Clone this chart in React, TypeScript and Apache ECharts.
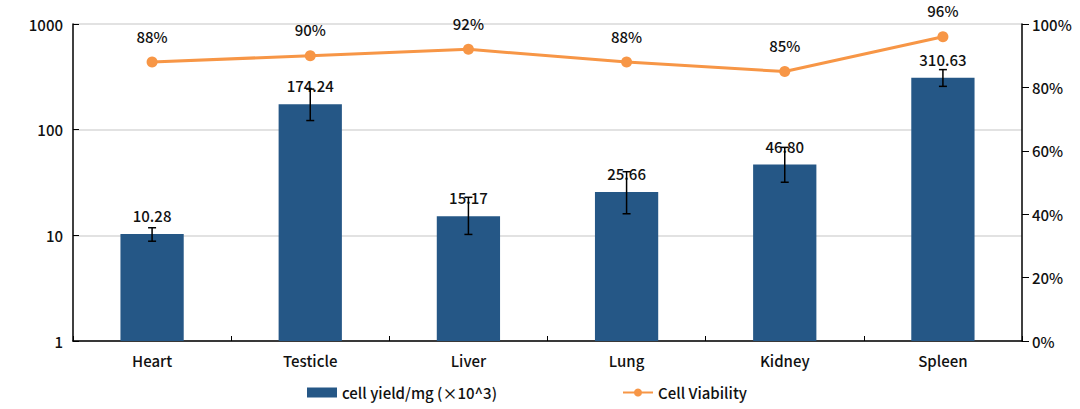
import React, { useEffect, useRef } from "react";
import * as echarts from "echarts";

const categories = ["Heart", "Testicle", "Liver", "Lung", "Kidney", "Spleen"];
const cellYield = [10.28, 174.24, 15.17, 25.66, 46.8, 310.63];
const errUpper = [11.8, 242, 22.9, 40, 68, 370];
const errLower = [8.8, 122, 10.2, 16, 31.8, 257];
const viability = [88, 90, 92, 88, 85, 96];
const leftTicks = [1, 10, 100, 1000];

const FONT = "Noto Sans CJK SC";
const BAR = "#255786";
const ORANGE = "#F79646";

export default function App() {
  const ref = useRef<HTMLDivElement>(null);
  useEffect(() => {
    if (!ref.current) return;
    const chart = echarts.init(ref.current, null, { renderer: "svg" });
    const txt = { fontFamily: FONT, fontWeight: 500 as any, fontSize: 15, color: "#111" };
    chart.setOption({
      animation: false,
      textStyle: { fontFamily: FONT },
      grid: { left: 73, right: 58, top: 24, bottom: 68 },
      legend: {
        bottom: 4,
        left: 302,
        itemGap: 125,
        itemWidth: 30,
        itemHeight: 10,
        textStyle: { ...txt },
        data: [
          { name: "cell yield/mg (×10^3)", icon: "rect" },
          { name: "Cell Viability" },
        ],
      },
      xAxis: {
        type: "category",
        data: categories,
        boundaryGap: true,
        axisLine: { lineStyle: { color: "#000", width: 1.5 } },
        axisTick: { show: true, inside: true, length: 5, interval: 0, lineStyle: { color: "#000" } },
        axisLabel: { ...txt, margin: 12 },
      },
      yAxis: [
        {
          type: "log",
          logBase: 10,
          min: leftTicks[0],
          max: leftTicks[leftTicks.length - 1],
          axisLine: { show: true, lineStyle: { color: "#000", width: 1.5 } },
          axisTick: { show: true, inside: true, length: 6, lineStyle: { color: "#000" } },
          axisLabel: { ...txt, margin: 10, formatter: (v: number) => String(Math.round(v)) },
          splitLine: { show: true, lineStyle: { color: "#d9d9d9", width: 1.5 } },
        },
        {
          type: "value",
          min: 0,
          max: 100,
          interval: 20,
          position: "right",
          axisLine: { show: true, lineStyle: { color: "#000", width: 1.5 } },
          axisTick: { show: true, length: 7, lineStyle: { color: "#000" } },
          axisLabel: { ...txt, margin: 10, formatter: "{value}%" },
          splitLine: { show: false },
        },
      ],
      series: [
        {
          name: "cell yield/mg (×10^3)",
          type: "bar",
          data: cellYield,
          barWidth: "40%",
          itemStyle: { color: BAR },
          label: {
            show: true,
            position: "top",
            distance: 11,
            ...txt,
            formatter: (p: any) => Number(p.value).toFixed(2),
          },
          z: 2,
        },
        {
          name: "errorbar",
          type: "custom",
          data: categories.map((_, i) => [i, errLower[i], errUpper[i]]),
          renderItem: (params: any, api: any) => {
            const i = api.value(0);
            const lo = api.coord([i, api.value(1)]);
            const hi = api.coord([i, api.value(2)]);
            const cap = 4;
            const style = { stroke: "#000", lineWidth: 1.5 };
            return {
              type: "group",
              children: [
                { type: "line", shape: { x1: lo[0], y1: lo[1], x2: hi[0], y2: hi[1] }, style },
                { type: "line", shape: { x1: hi[0] - cap, y1: hi[1], x2: hi[0] + cap, y2: hi[1] }, style },
                { type: "line", shape: { x1: lo[0] - cap, y1: lo[1], x2: lo[0] + cap, y2: lo[1] }, style },
              ],
            };
          },
          encode: { x: 0, y: [1, 2] },
          z: 3,
          silent: true,
        },
        {
          name: "Cell Viability",
          type: "line",
          yAxisIndex: 1,
          data: viability,
          symbol: "circle",
          symbolSize: 11,
          lineStyle: { color: ORANGE, width: 3 },
          itemStyle: { color: ORANGE },
          label: { show: true, position: "top", distance: 13, ...txt, formatter: "{c}%" },
          z: 4,
        },
      ],
    });
    return () => chart.dispose();
  }, []);
  return (
    <div
      ref={ref}
      style={{ position: "fixed", left: 0, top: 0, width: 1080, height: 409, background: "#fff" }}
    />
  );
}
